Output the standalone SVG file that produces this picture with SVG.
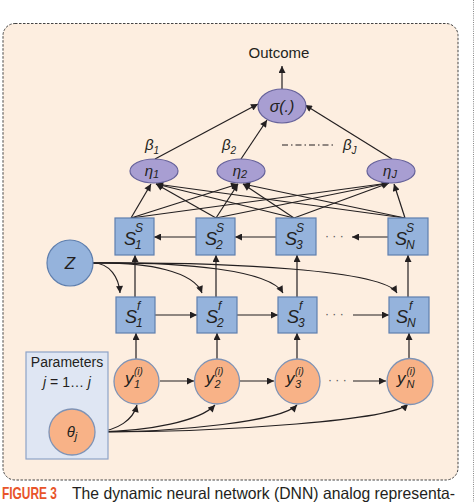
<svg xmlns="http://www.w3.org/2000/svg" width="474" height="502" viewBox="0 0 474 502">
<defs>
<marker id="ah" viewBox="0 0 10 10" refX="10" refY="5" markerWidth="8" markerHeight="7" markerUnits="userSpaceOnUse" orient="auto">
<path d="M0,0 L10,5 L0,10 z" fill="#231f20"/>
</marker>
</defs>
<style>
.e{stroke:#231f20;stroke-width:1.2;fill:none;marker-end:url(#ah)}
.pur{fill:#a89ed2;stroke:#66629a;stroke-width:1.2}
.box{fill:#95b3dc;stroke:#5f7fae;stroke-width:1.2}
.org{fill:#f8b287;stroke:#7f93b5;stroke-width:1.3}
.m{font-family:"Liberation Sans",Arial,sans-serif;font-style:italic;fill:#231f20}
.t{font-family:"Liberation Sans",Arial,sans-serif;fill:#231f20}
.dots{font-family:"Liberation Sans",Arial,sans-serif;fill:#555;font-size:12px}
</style>
<rect x="0" y="0" width="474" height="502" fill="#ffffff"/>
<line x1="473.5" y1="0" x2="473.5" y2="502" stroke="#888" stroke-width="1" stroke-dasharray="1 1.2"/>
<rect x="3" y="23.5" width="455" height="456.5" rx="12" fill="#fdeee0" stroke="#444" stroke-width="1" stroke-dasharray="2.5 1.5"/>

<g id="connectors">
<line class="e" x1="282" y1="89" x2="282" y2="66"/>
<line class="e" x1="155" y1="159" x2="258" y2="104"/>
<line class="e" x1="241" y1="159" x2="267" y2="120"/>
<line class="e" x1="392" y1="159" x2="305" y2="105"/>
<line x1="282" y1="145" x2="334" y2="145" stroke="#231f20" stroke-width="1" stroke-dasharray="6 3 1.5 3"/>
<line class="e" x1="131" y1="218" x2="151" y2="184"/>
<line class="e" x1="131" y1="218" x2="238" y2="184"/>
<line class="e" x1="131" y1="218" x2="389" y2="183"/>
<line class="e" x1="216" y1="218" x2="156" y2="184"/>
<line class="e" x1="216" y1="218" x2="238" y2="184"/>
<line class="e" x1="216" y1="218" x2="389" y2="183"/>
<line class="e" x1="294" y1="218" x2="156" y2="184"/>
<line class="e" x1="294" y1="218" x2="243" y2="184"/>
<line class="e" x1="294" y1="218" x2="389" y2="183"/>
<line class="e" x1="405" y1="218" x2="156" y2="184"/>
<line class="e" x1="405" y1="218" x2="243" y2="184"/>
<line class="e" x1="405" y1="218" x2="394" y2="184"/>
<line class="e" x1="196" y1="237" x2="154" y2="237"/>
<line class="e" x1="276" y1="237" x2="235" y2="237"/>
<line class="e" x1="388" y1="237" x2="352" y2="237"/>
<line class="e" x1="135" y1="297" x2="135" y2="255"/>
<line class="e" x1="216" y1="297" x2="216" y2="255"/>
<line class="e" x1="297" y1="297" x2="297" y2="255"/>
<line class="e" x1="408" y1="297" x2="408" y2="255"/>
<line class="e" x1="155" y1="315" x2="197" y2="315"/>
<line class="e" x1="237" y1="315" x2="278" y2="315"/>
<line class="e" x1="353" y1="315" x2="389" y2="315"/>
<path class="e" d="M93,263 C110,263 119,278 120,293"/>
<path class="e" d="M93,263 C150,262 194,272 202,293"/>
<path class="e" d="M93,263 C185,262 270,270 283,293"/>
<path class="e" d="M93,263 C230,262 384,270 397,293"/>
<line class="e" x1="136" y1="360" x2="136" y2="333"/>
<line class="e" x1="217" y1="360" x2="217" y2="333"/>
<line class="e" x1="297" y1="360" x2="297" y2="333"/>
<line class="e" x1="409" y1="360" x2="409" y2="333"/>
<line class="e" x1="160" y1="381" x2="194" y2="381"/>
<line class="e" x1="240" y1="381" x2="274" y2="381"/>
<line class="e" x1="353" y1="381" x2="386" y2="381"/>
<path class="e" d="M97,432 C118,430 133,420 137,405"/>
<path class="e" d="M97,432 C150,431 200,421 215,405"/>
<path class="e" d="M97,432 C180,432 282,421 297,405"/>
<path class="e" d="M97,432 C230,432 392,420 408,404"/>
</g>

<text class="t" x="279" y="58" font-size="15" text-anchor="middle">Outcome</text>
<text class="m" x="145" y="150" font-size="15">β<tspan font-size="10" dy="4">1</tspan></text>
<text class="m" x="222" y="150" font-size="15">β<tspan font-size="10" dy="4">2</tspan></text>
<text class="m" x="343" y="150" font-size="15">β<tspan font-size="10" dy="4">J</tspan></text>
<text class="dots" x="325" y="240">· · ·</text>
<text class="dots" x="325" y="318">· · ·</text>
<text class="dots" x="328" y="384">· · ·</text>

<g id="sigma"><ellipse class="pur" cx="282" cy="106" rx="24" ry="17"/><text class="m" x="282" y="112" font-size="16" text-anchor="middle">σ(.)</text></g>
<g id="eta1"><ellipse class="pur" cx="154" cy="171" rx="24" ry="12"/><text class="m" x="152" y="176" font-size="15" text-anchor="middle">η<tspan font-size="11" dy="2">1</tspan></text></g>
<g id="eta2"><ellipse class="pur" cx="241" cy="171" rx="24" ry="12"/><text class="m" x="240" y="176" font-size="15" text-anchor="middle">η<tspan font-size="11" dy="2">2</tspan></text></g>
<g id="etaJ"><ellipse class="pur" cx="391" cy="171" rx="24" ry="12"/><text class="m" x="390" y="176" font-size="15" text-anchor="middle">η<tspan font-size="11" dy="2">J</tspan></text></g>

<g id="Ss1"><rect class="box" x="115" y="218" width="39" height="37"/><text class="m" x="124" y="245" font-size="18">S</text><text class="m" x="135" y="232" font-size="12">S</text><text class="m" x="135" y="249" font-size="12">1</text></g>
<g id="Ss2"><rect class="box" x="196" y="218" width="39" height="37"/><text class="m" x="205" y="245" font-size="18">S</text><text class="m" x="216" y="232" font-size="12">S</text><text class="m" x="216" y="249" font-size="12">2</text></g>
<g id="Ss3"><rect class="box" x="276" y="218" width="40" height="37"/><text class="m" x="285" y="245" font-size="18">S</text><text class="m" x="296" y="232" font-size="12">S</text><text class="m" x="296" y="249" font-size="12">3</text></g>
<g id="SsN"><rect class="box" x="388" y="218" width="40" height="37"/><text class="m" x="395" y="245" font-size="18">S</text><text class="m" x="406" y="232" font-size="12">S</text><text class="m" x="406" y="249" font-size="12">N</text></g>

<g id="Z"><circle cx="70" cy="263" r="23" fill="#95b3dc" stroke="#5f7fae" stroke-width="1.2"/><text class="m" x="70" y="269" font-size="17" text-anchor="middle">Z</text></g>

<g id="Sf1"><rect class="box" x="116" y="297" width="39" height="36"/><text class="m" x="125" y="323" font-size="18">S</text><text class="m" x="137" y="310" font-size="12">f</text><text class="m" x="136" y="327" font-size="12">1</text></g>
<g id="Sf2"><rect class="box" x="197" y="297" width="40" height="36"/><text class="m" x="206" y="323" font-size="18">S</text><text class="m" x="218" y="310" font-size="12">f</text><text class="m" x="217" y="327" font-size="12">2</text></g>
<g id="Sf3"><rect class="box" x="278" y="297" width="39" height="36"/><text class="m" x="287" y="323" font-size="18">S</text><text class="m" x="299" y="310" font-size="12">f</text><text class="m" x="298" y="327" font-size="12">3</text></g>
<g id="SfN"><rect class="box" x="389" y="297" width="40" height="36"/><text class="m" x="396" y="323" font-size="18">S</text><text class="m" x="409" y="310" font-size="12">f</text><text class="m" x="407" y="327" font-size="12">N</text></g>

<g id="params"><rect x="26" y="352" width="82" height="107" fill="#dfe6f3" stroke="#8ea3c7" stroke-width="1.2"/>
<text class="t" x="67" y="367" font-size="14" text-anchor="middle">Parameters</text>
<text class="t" x="67" y="387" font-size="14" text-anchor="middle"><tspan font-style="italic">j</tspan> = 1… <tspan font-style="italic">j</tspan></text></g>
<g id="theta"><circle class="org" cx="72" cy="432" r="23"/><text class="m" x="72" y="437" font-size="15" text-anchor="middle">θ<tspan font-size="11" dy="3">j</tspan></text></g>

<g id="y1"><circle class="org" cx="136.5" cy="381.5" r="22.5"/><text class="m" x="125" y="384" font-size="17">y</text><text class="m" x="134" y="375" font-size="10">(i)</text><text class="m" x="134" y="388" font-size="11">1</text></g>
<g id="y2"><circle class="org" cx="217" cy="381.5" r="22.5"/><text class="m" x="205.5" y="384" font-size="17">y</text><text class="m" x="214.5" y="375" font-size="10">(i)</text><text class="m" x="214.5" y="388" font-size="11">2</text></g>
<g id="y3"><circle class="org" cx="297.5" cy="381.5" r="22.5"/><text class="m" x="286" y="384" font-size="17">y</text><text class="m" x="295" y="375" font-size="10">(i)</text><text class="m" x="295" y="388" font-size="11">3</text></g>
<g id="yN"><circle class="org" cx="410" cy="381.5" r="23"/><text class="m" x="397" y="384" font-size="17">y</text><text class="m" x="406.5" y="375" font-size="10">(i)</text><text class="m" x="406.5" y="388" font-size="11">N</text></g>

<text x="2" y="498.5" font-family="'Liberation Sans',Arial,sans-serif" font-weight="bold" font-size="16.5" fill="#e8542a" textLength="55" lengthAdjust="spacingAndGlyphs">FIGURE 3</text>
<text x="72" y="498.5" font-family="'Liberation Sans',Arial,sans-serif" font-size="16.5" fill="#231f20" textLength="383" lengthAdjust="spacingAndGlyphs">The dynamic neural network (DNN) analog representa-</text>
</svg>
